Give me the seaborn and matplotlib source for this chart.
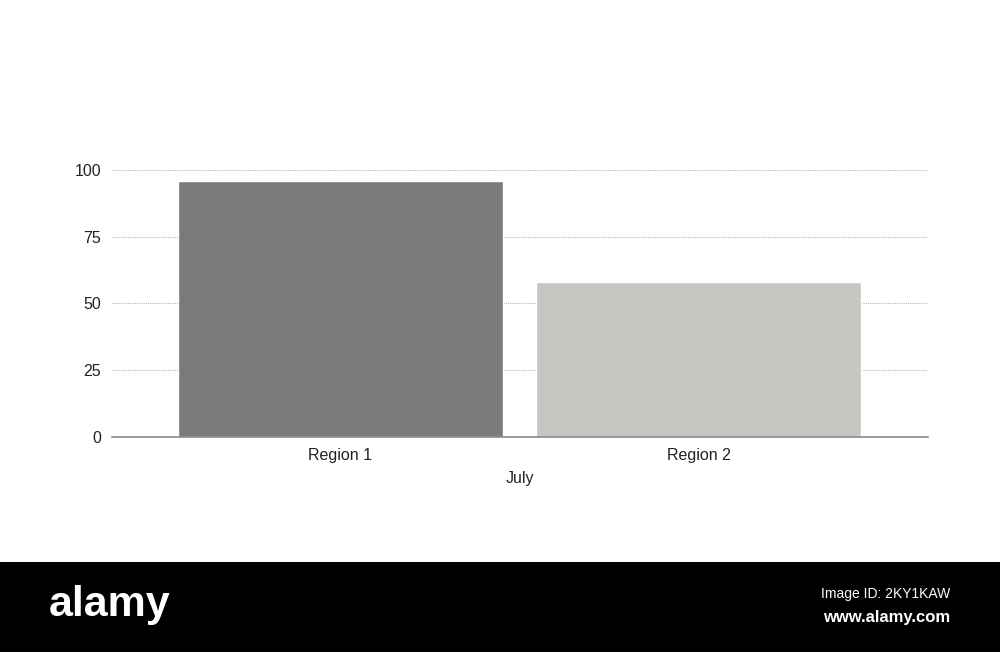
"""Two-region July bar chart (grey tones, dotted grid)."""

import matplotlib

matplotlib.use("Agg")
import matplotlib.pyplot as plt
import seaborn as sns
from matplotlib.patches import Rectangle

regions = ["Region 1", "Region 2"]
values = [96, 58]
bar_colors = ["#7a7a7a", "#c6c7c2"]
y_ticks = [0, 25, 50, 75, 100]
x_title = "July"

sns.set_theme(style="white")
plt.rcParams["font.family"] = ["Liberation Sans", "DejaVu Sans"]

fig = plt.figure(figsize=(10, 6.52), dpi=100)
ax = fig.add_axes([0.112, 0.3298, 0.816, 0.4095])

sns.barplot(x=regions, y=values, hue=regions, palette=bar_colors,
            saturation=1, width=0.907, legend=False, ax=ax, zorder=2)

ax.set_ylim(0, 100)
ax.set_xlim(-0.637, 1.639)
ax.set_yticks(y_ticks)
ax.set_yticklabels([str(t) for t in y_ticks])
ax.yaxis.grid(True, linestyle=(0, (1, 1)), color="#b5b5b5", linewidth=0.8, zorder=0)
ax.set_axisbelow(True)
for side in ["top", "right", "left"]:
    ax.spines[side].set_visible(False)
ax.spines["bottom"].set_color("#8a8a8a")
ax.spines["bottom"].set_linewidth(1.2)
ax.tick_params(axis="both", length=0, labelsize=11.5, colors="#222222")
ax.tick_params(axis="y", pad=8)
ax.tick_params(axis="x", pad=8)
ax.set_xlabel(x_title, fontsize=11.5, color="#222222", labelpad=6)
ax.set_ylabel("")

# black footer band
fig.patches.append(Rectangle((0, 0), 1, 90 / 652, transform=fig.transFigure,
                             facecolor="black", edgecolor="none", zorder=0))
fig.text(0.049, 0.072, "alamy", color="white", fontsize=31, fontweight="bold",
         family="Liberation Sans", ha="left", va="center")
fig.text(0.95, 0.089, "Image ID: 2KY1KAW", color="white", fontsize=10,
         family="Liberation Sans", ha="right", va="center")
fig.text(0.95, 0.053, "www.alamy.com", color="white", fontsize=12, fontweight="bold",
         family="Liberation Sans", ha="right", va="center")

fig.savefig("out.png", dpi=100, facecolor="white")
